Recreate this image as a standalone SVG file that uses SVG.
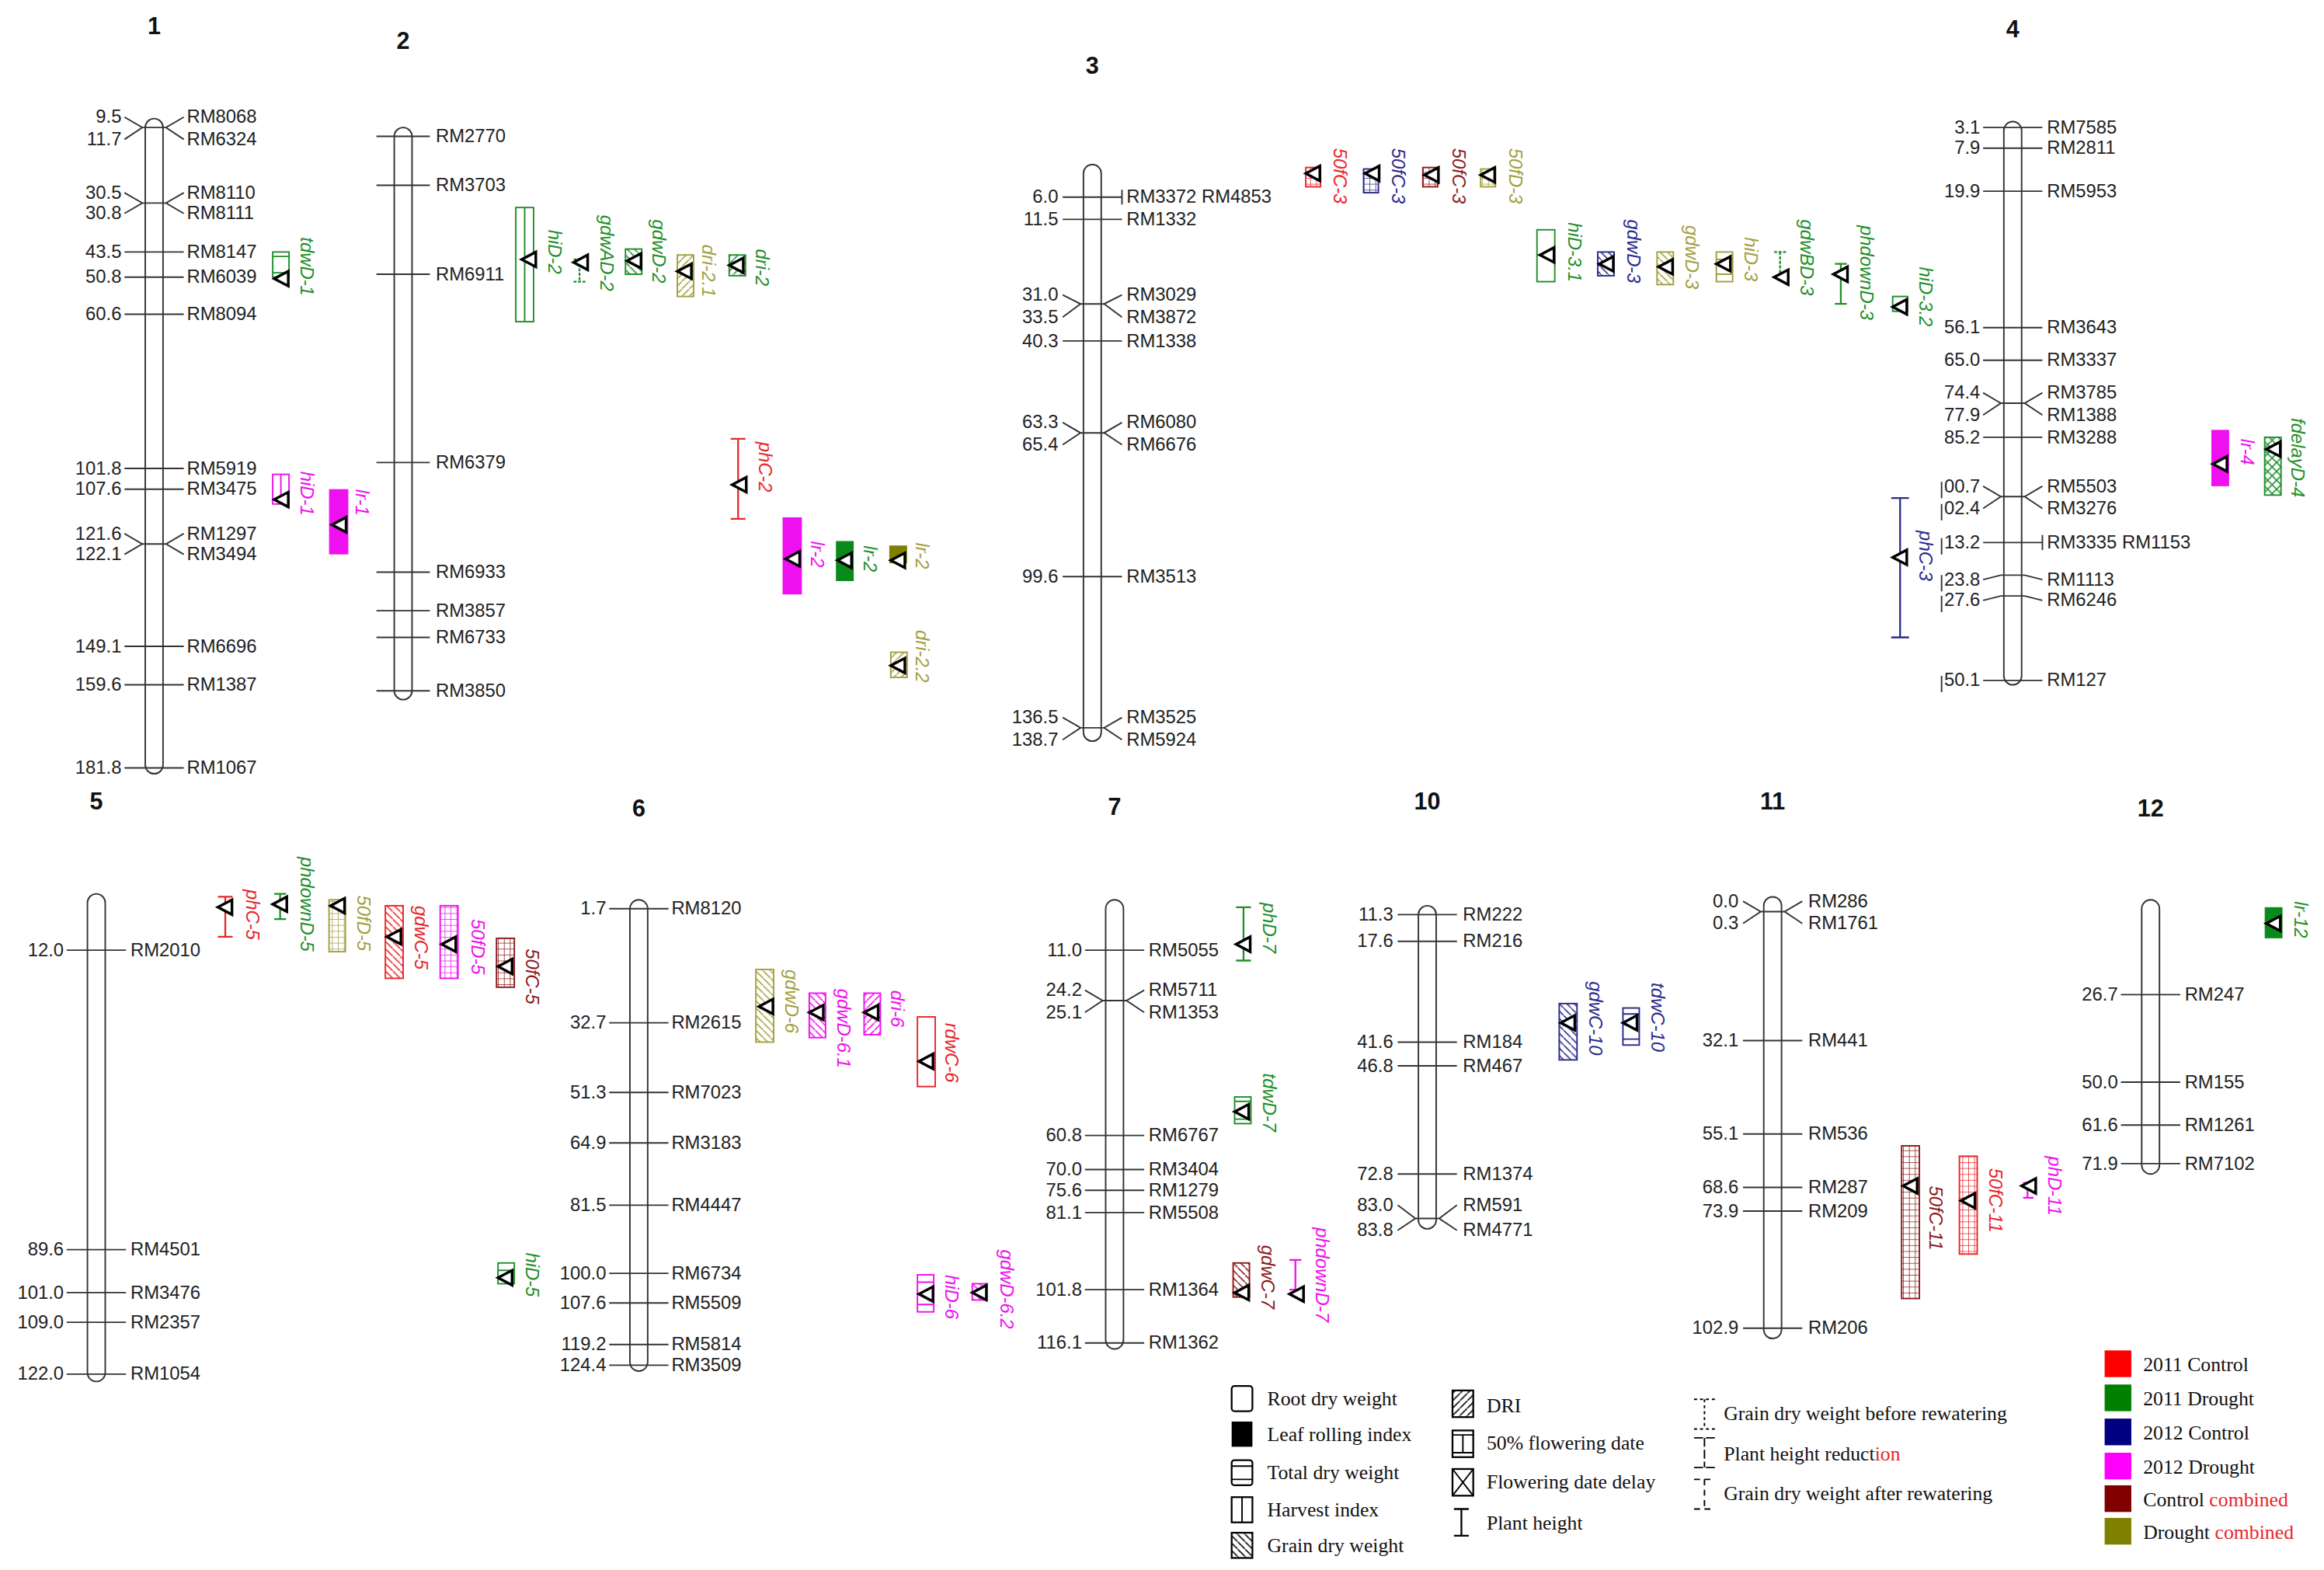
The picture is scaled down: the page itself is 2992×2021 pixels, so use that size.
<svg xmlns="http://www.w3.org/2000/svg" xmlns:xlink="http://www.w3.org/1999/xlink" width="2992" height="2021" viewBox="0 0 2992 2021">
<style>
.chr{fill:#fff;stroke:#333;stroke-width:1}
.tk{fill:none;stroke:#333;stroke-width:1}
.n{font-family:"Liberation Sans",Arial,sans-serif;font-size:12.5px;fill:#222}
.r{text-anchor:end}
.t{font-family:"Liberation Sans",Arial,sans-serif;font-size:16px;font-weight:bold;text-anchor:middle;fill:#111}
.q{font-family:"Liberation Sans",Arial,sans-serif;font-size:12.5px;font-style:italic}
.tri{fill:#fff;stroke:#000;stroke-width:1.8}
.lg{font-family:"Liberation Serif","Times New Roman",serif;font-size:13.5px;fill:#111}
.ib{fill:none;stroke-width:1.2}
.lic{fill:#fff;stroke:#000;stroke-width:1.2}
</style>
<defs>
<path id="tri" class="tri" d="M4.5,-5 L4.5,5 L-5,0 Z"/>
<pattern id="bsR" width="5" height="5" patternUnits="userSpaceOnUse"><path d="M-1,-1 L6,6" stroke="#e8262b" stroke-width="0.8"/></pattern>
<pattern id="bsO" width="5" height="5" patternUnits="userSpaceOnUse"><path d="M-1,-1 L6,6" stroke="#a2a040" stroke-width="0.8"/></pattern>
<pattern id="bsN" width="5" height="5" patternUnits="userSpaceOnUse"><path d="M-1,-1 L6,6" stroke="#2a2a8c" stroke-width="0.8"/></pattern>
<pattern id="bsM" width="5" height="5" patternUnits="userSpaceOnUse"><path d="M-1,-1 L6,6" stroke="#ee10ee" stroke-width="0.8"/></pattern>
<pattern id="bsD" width="5" height="5" patternUnits="userSpaceOnUse"><path d="M-1,-1 L6,6" stroke="#8b1a1a" stroke-width="0.8"/></pattern>
<pattern id="bsG" width="5" height="5" patternUnits="userSpaceOnUse"><path d="M-1,-1 L6,6" stroke="#1f8f2a" stroke-width="0.8"/></pattern>
<pattern id="bsK" width="5" height="5" patternUnits="userSpaceOnUse"><path d="M-1,-1 L6,6" stroke="#000" stroke-width="0.8"/></pattern>
<pattern id="fsO" width="5" height="5" patternUnits="userSpaceOnUse"><path d="M-1,6 L6,-1" stroke="#a2a040" stroke-width="0.8"/></pattern>
<pattern id="fsG" width="5" height="5" patternUnits="userSpaceOnUse"><path d="M-1,6 L6,-1" stroke="#1f8f2a" stroke-width="0.8"/></pattern>
<pattern id="fsM" width="5" height="5" patternUnits="userSpaceOnUse"><path d="M-1,6 L6,-1" stroke="#ee10ee" stroke-width="0.8"/></pattern>
<pattern id="fsK" width="5" height="5" patternUnits="userSpaceOnUse"><path d="M-1,6 L6,-1" stroke="#000" stroke-width="0.8"/></pattern>
<pattern id="grR" width="4" height="4" patternUnits="userSpaceOnUse"><path d="M0,0 H4 M0,0 V4" stroke="#e8262b" stroke-width="0.8" fill="none"/></pattern>
<pattern id="grN" width="4" height="4" patternUnits="userSpaceOnUse"><path d="M0,0 H4 M0,0 V4" stroke="#2a2a8c" stroke-width="0.8" fill="none"/></pattern>
<pattern id="grD" width="4" height="4" patternUnits="userSpaceOnUse"><path d="M0,0 H4 M0,0 V4" stroke="#8b1a1a" stroke-width="0.8" fill="none"/></pattern>
<pattern id="grO" width="4" height="4" patternUnits="userSpaceOnUse"><path d="M0,0 H4 M0,0 V4" stroke="#a2a040" stroke-width="0.8" fill="none"/></pattern>
<pattern id="grM" width="4" height="4" patternUnits="userSpaceOnUse"><path d="M0,0 H4 M0,0 V4" stroke="#ee10ee" stroke-width="0.8" fill="none"/></pattern>
<pattern id="xG" width="6" height="6" patternUnits="userSpaceOnUse"><path d="M0,0 L6,6 M6,0 L0,6" stroke="#1f8f2a" stroke-width="0.8"/></pattern>
</defs>
<rect width="2992" height="2021" fill="#fff"/>
<g transform="scale(1.908163)">

<!-- Chromosome 1 -->
<g id="chr1">
<text class="t" x="104" y="23">1</text>
<rect class="chr" x="98" y="80" width="12" height="442" rx="6"/>
<path class="tk" d="M84,79 L96,86 L112,86 L124,79 M84,94 L96,86 L112,86 L124,94 M84,130 L96,137 L112,137 L124,130 M84,144 L96,137 L112,137 L124,144 M84,170 H124 M84,187 H124 M84,212 H124 M84,316 H124 M84,330 H124 M84,360 L96,367 L112,367 L124,360 M84,374 L96,367 L112,367 L124,374 M84,436 H124 M84,462 H124 M84,518 H124"/>
<g class="n r"><text x="82" y="83">9.5</text><text x="82" y="98">11.7</text><text x="82" y="134">30.5</text><text x="82" y="148">30.8</text><text x="82" y="174">43.5</text><text x="82" y="191">50.8</text><text x="82" y="216">60.6</text><text x="82" y="320">101.8</text><text x="82" y="334">107.6</text><text x="82" y="364">121.6</text><text x="82" y="378">122.1</text><text x="82" y="440">149.1</text><text x="82" y="466">159.6</text><text x="82" y="522">181.8</text></g>
<g class="n"><text x="126" y="83">RM8068</text><text x="126" y="98">RM6324</text><text x="126" y="134">RM8110</text><text x="126" y="148">RM8111</text><text x="126" y="174">RM8147</text><text x="126" y="191">RM6039</text><text x="126" y="216">RM8094</text><text x="126" y="320">RM5919</text><text x="126" y="334">RM3475</text><text x="126" y="364">RM1297</text><text x="126" y="378">RM3494</text><text x="126" y="440">RM6696</text><text x="126" y="466">RM1387</text><text x="126" y="522">RM1067</text></g>
</g>
<g id="q-tdwD-1"><rect x="184" y="170" width="11" height="17" fill="#fff" stroke="#1f8f2a"/><path d="M184,173 H195 M184,184 H195" stroke="#1f8f2a"/><use href="#tri" x="190" y="188"/><text class="q" fill="#1f8f2a" transform="translate(203,160) rotate(90)">tdwD-1</text></g>
<g id="q-hiD-1"><rect x="184" y="320" width="11" height="20" fill="#fff" stroke="#ee10ee"/><path d="M189.5,320 V340" stroke="#ee10ee"/><use href="#tri" x="190" y="337"/><text class="q" fill="#ee10ee" transform="translate(203,318) rotate(90)">hiD-1</text></g>
<g id="q-lr-1"><rect x="222" y="330" width="13" height="44" fill="#ee10ee"/><use href="#tri" x="229" y="354"/><text class="q" fill="#ee10ee" transform="translate(240,330) rotate(90)">lr-1</text></g>

<!-- Chromosome 2 -->
<g id="chr2">
<text class="t" x="272" y="33">2</text>
<rect class="chr" x="266" y="86" width="12" height="386" rx="6"/>
<path class="tk" d="M254,92 H290 M254,125 H290 M254,185 H290 M254,312 H290 M254,386 H290 M254,412 H290 M254,430 H290 M254,466 H290"/>
<g class="n"><text x="294" y="96">RM2770</text><text x="294" y="129">RM3703</text><text x="294" y="189">RM6911</text><text x="294" y="316">RM6379</text><text x="294" y="390">RM6933</text><text x="294" y="416">RM3857</text><text x="294" y="434">RM6733</text><text x="294" y="470">RM3850</text></g>
</g>
<g id="q-hiD-2"><rect x="348" y="140" width="12" height="77" fill="#fff" stroke="#1f8f2a"/><path d="M354,140 V217" stroke="#1f8f2a"/><use href="#tri" x="357" y="175"/><text class="q" fill="#1f8f2a" transform="translate(370,155) rotate(90)">hiD-2</text></g>
<g id="q-gdwAD-2"><path class="ib" stroke="#1f8f2a" d="M387,175 H395 M391,175 V190 M387,190 H395" stroke-dasharray="2,1"/><use href="#tri" x="392" y="177"/><text class="q" fill="#1f8f2a" transform="translate(405,145) rotate(90)">gdwAD-2</text></g>
<g id="q-gdwD-2"><rect x="422" y="168" width="11" height="17" fill="url(#bsG)" stroke="#1f8f2a"/><use href="#tri" x="428" y="176"/><text class="q" fill="#1f8f2a" transform="translate(440,148) rotate(90)">gdwD-2</text></g>
<g id="q-dri-2.1"><rect x="457" y="172" width="11" height="28" fill="url(#fsO)" stroke="#a2a040"/><use href="#tri" x="462" y="183"/><text class="q" fill="#a2a040" transform="translate(474,165) rotate(90)">dri-2.1</text></g>
<g id="q-dri-2"><rect x="492" y="172" width="11" height="14" fill="url(#fsG)" stroke="#1f8f2a"/><use href="#tri" x="497" y="179"/><text class="q" fill="#1f8f2a" transform="translate(510,168) rotate(90)">dri-2</text></g>
<g id="q-phC-2"><path class="ib" stroke="#e8262b" d="M493,296 H503 M498,296 V350 M493,350 H503"/><use href="#tri" x="499" y="327"/><text class="q" fill="#e8262b" transform="translate(512,298) rotate(90)">phC-2</text></g>
<g id="q-lr-2m"><rect x="528" y="349" width="13" height="52" fill="#ee10ee"/><use href="#tri" x="535" y="377"/><text class="q" fill="#ee10ee" transform="translate(547,365) rotate(90)">lr-2</text></g>
<g id="q-lr-2g"><rect x="564" y="365" width="12" height="27" fill="#0a8a1a"/><use href="#tri" x="570" y="378"/><text class="q" fill="#1f8f2a" transform="translate(583,368) rotate(90)">lr-2</text></g>
<g id="q-lr-2o"><rect x="600" y="368" width="12" height="12" fill="#808000"/><use href="#tri" x="606" y="378"/><text class="q" fill="#a2a040" transform="translate(618,366) rotate(90)">lr-2</text></g>
<g id="q-dri-2.2"><rect x="601" y="440" width="11" height="17" fill="url(#fsO)" stroke="#a2a040"/><use href="#tri" x="606" y="449"/><text class="q" fill="#a2a040" transform="translate(618,425) rotate(90)">dri-2.2</text></g>

<!-- Chromosome 3 -->
<g id="chr3">
<text class="t" x="737" y="50">3</text>
<rect class="chr" x="731" y="111" width="12" height="389" rx="6"/>
<path class="tk" d="M717,133 H757 M757,128 V138 M717,148 H757 M717,199 L729,205 L745,205 L757,199 M717,214 L729,205 L745,205 L757,214 M717,230 H757 M717,285 L729,292 L745,292 L757,285 M717,300 L729,292 L745,292 L757,300 M717,389 H757 M717,484 L729,491 L745,491 L757,484 M717,499 L729,491 L745,491 L757,499"/>
<g class="n r"><text x="714" y="137">6.0</text><text x="714" y="152">11.5</text><text x="714" y="203">31.0</text><text x="714" y="218">33.5</text><text x="714" y="234">40.3</text><text x="714" y="289">63.3</text><text x="714" y="304">65.4</text><text x="714" y="393">99.6</text><text x="714" y="488">136.5</text><text x="714" y="503">138.7</text></g>
<g class="n"><text x="760" y="137">RM3372 RM4853</text><text x="760" y="152">RM1332</text><text x="760" y="203">RM3029</text><text x="760" y="218">RM3872</text><text x="760" y="234">RM1338</text><text x="760" y="289">RM6080</text><text x="760" y="304">RM6676</text><text x="760" y="393">RM3513</text><text x="760" y="488">RM3525</text><text x="760" y="503">RM5924</text></g>
</g>
<g id="q-50fC-3r"><rect x="881" y="113" width="10" height="13" fill="url(#grR)" stroke="#e8262b"/><use href="#tri" x="886" y="117"/><text class="q" fill="#e8262b" transform="translate(900,100) rotate(90)">50fC-3</text></g>
<g id="q-50fC-3n"><rect x="920" y="114" width="10" height="16" fill="url(#grN)" stroke="#2a2a8c"/><use href="#tri" x="926" y="117"/><text class="q" fill="#2a2a8c" transform="translate(939,100) rotate(90)">50fC-3</text></g>
<g id="q-50fC-3d"><rect x="960" y="113" width="10" height="13" fill="url(#grD)" stroke="#8b1a1a"/><use href="#tri" x="966" y="118"/><text class="q" fill="#8b1a1a" transform="translate(980,100) rotate(90)">50fC-3</text></g>
<g id="q-50fD-3"><rect x="999" y="114" width="10" height="12" fill="url(#grO)" stroke="#a2a040"/><use href="#tri" x="1004" y="118"/><text class="q" fill="#a2a040" transform="translate(1018,100) rotate(90)">50fD-3</text></g>
<g id="q-hiD-3.1"><rect x="1037" y="155" width="12" height="35" fill="#fff" stroke="#1f8f2a"/><path d="M1037,172 H1049" stroke="#1f8f2a"/><use href="#tri" x="1044" y="172"/><text class="q" fill="#1f8f2a" transform="translate(1058,150) rotate(90)">hiD-3.1</text></g>
<g id="q-gdwD-3n"><rect x="1078" y="170" width="11" height="16" fill="url(#bsN)" stroke="#2a2a8c"/><use href="#tri" x="1084" y="178"/><text class="q" fill="#2a2a8c" transform="translate(1098,148) rotate(90)">gdwD-3</text></g>
<g id="q-gdwD-3o"><rect x="1118" y="170" width="11" height="22" fill="url(#bsO)" stroke="#a2a040"/><use href="#tri" x="1124" y="180"/><text class="q" fill="#a2a040" transform="translate(1137,152) rotate(90)">gdwD-3</text></g>
<g id="q-hiD-3"><rect x="1158" y="170" width="11" height="20" fill="#fff" stroke="#a2a040"/><path d="M1158,175 H1169 M1158,185 H1169" stroke="#a2a040"/><use href="#tri" x="1163" y="178"/><text class="q" fill="#a2a040" transform="translate(1177,160) rotate(90)">hiD-3</text></g>
<g id="q-gdwBD-3"><path class="ib" stroke="#1f8f2a" stroke-dasharray="2,1" d="M1197,170 H1206 M1201,170 V187 M1197,187 H1206"/><use href="#tri" x="1202" y="187"/><text class="q" fill="#1f8f2a" transform="translate(1215,148) rotate(90)">gdwBD-3</text></g>
<g id="q-phdownD-3"><path class="ib" stroke="#1f8f2a" d="M1238,178 H1246 M1242,178 V205 M1238,205 H1246"/><use href="#tri" x="1242" y="185"/><text class="q" fill="#1f8f2a" transform="translate(1255,152) rotate(90)">phdownD-3</text></g>
<g id="q-hiD-3.2"><rect x="1277" y="200" width="10" height="10" fill="#fff" stroke="#1f8f2a"/><use href="#tri" x="1282" y="207"/><text class="q" fill="#1f8f2a" transform="translate(1295,180) rotate(90)">hiD-3.2</text></g>
<g id="q-phC-3"><path class="ib" stroke="#2a2a8c" d="M1276,336 H1288 M1282,336 V430 M1276,430 H1288"/><use href="#tri" x="1282" y="376"/><text class="q" fill="#2a2a8c" transform="translate(1295,358) rotate(90)">phC-3</text></g>

<!-- Chromosome 4 -->
<g id="chr4">
<text class="t" x="1358" y="25">4</text>
<rect class="chr" x="1352" y="82" width="12" height="380" rx="6"/>
<path class="tk" d="M1338,86 H1378 M1338,100 H1378 M1338,129 H1378 M1338,221 H1378 M1338,243 H1378 M1338,265 L1350,272 L1366,272 L1378,265 M1338,280 L1350,272 L1366,272 L1378,280 M1338,295 H1378 M1338,328 L1350,335 L1366,335 L1378,328 M1338,343 L1350,335 L1366,335 L1378,343 M1338,366 H1378 M1378,361 V371 M1338,391 L1350,388 L1366,388 L1378,391 M1338,405 L1350,402 L1366,402 L1378,405 M1338,459 H1378"/>
<g class="n r"><text x="1336" y="90">3.1</text><text x="1336" y="104">7.9</text><text x="1336" y="133">19.9</text><text x="1336" y="225">56.1</text><text x="1336" y="247">65.0</text><text x="1336" y="269">74.4</text><text x="1336" y="284">77.9</text><text x="1336" y="299">85.2</text><text x="1336" y="332">00.7</text><text x="1336" y="347">02.4</text><text x="1336" y="370">13.2</text><text x="1336" y="395">23.8</text><text x="1336" y="409">27.6</text><text x="1336" y="463">50.1</text></g>
<path class="tk" d="M1310,325 V336 M1310,340 V351 M1310,363 V374 M1310,388 V399 M1310,402 V413 M1310,456 V467"/>
<g class="n"><text x="1381" y="90">RM7585</text><text x="1381" y="104">RM2811</text><text x="1381" y="133">RM5953</text><text x="1381" y="225">RM3643</text><text x="1381" y="247">RM3337</text><text x="1381" y="269">RM3785</text><text x="1381" y="284">RM1388</text><text x="1381" y="299">RM3288</text><text x="1381" y="332">RM5503</text><text x="1381" y="347">RM3276</text><text x="1381" y="370">RM3335 RM1153</text><text x="1381" y="395">RM1113</text><text x="1381" y="409">RM6246</text><text x="1381" y="463">RM127</text></g>
</g>
<g id="q-lr-4"><rect x="1492" y="290" width="12" height="38" fill="#ee10ee"/><use href="#tri" x="1498" y="313"/><text class="q" fill="#ee10ee" transform="translate(1512,296) rotate(90)">lr-4</text></g>
<g id="q-fdelayD-4"><rect x="1528" y="295" width="11" height="39" fill="url(#xG)" stroke="#1f8f2a"/><use href="#tri" x="1534" y="303"/><text class="q" fill="#1f8f2a" transform="translate(1546,282) rotate(90)">fdelayD-4</text></g>

<!-- Chromosome 5 -->
<g id="chr5">
<text class="t" x="65" y="546">5</text>
<rect class="chr" x="59" y="603" width="12" height="329" rx="6"/>
<path class="tk" d="M45,641 H85 M45,843 H85 M45,872 H85 M45,892 H85 M45,927 H85"/>
<g class="n r"><text x="43" y="645">12.0</text><text x="43" y="847">89.6</text><text x="43" y="876">101.0</text><text x="43" y="896">109.0</text><text x="43" y="931">122.0</text></g>
<g class="n"><text x="88" y="645">RM2010</text><text x="88" y="847">RM4501</text><text x="88" y="876">RM3476</text><text x="88" y="896">RM2357</text><text x="88" y="931">RM1054</text></g>
</g>
<g id="q-phC-5"><path class="ib" stroke="#e8262b" d="M147,605 H157 M152,605 V632 M147,632 H157"/><use href="#tri" x="152" y="612"/><text class="q" fill="#e8262b" transform="translate(166,600) rotate(90)">phC-5</text></g>
<g id="q-phdownD-5"><path class="ib" stroke="#1f8f2a" d="M185,603 H193 M189,603 V620 M185,620 H193"/><use href="#tri" x="189" y="610"/><text class="q" fill="#1f8f2a" transform="translate(203,578) rotate(90)">phdownD-5</text></g>
<g id="q-50fD-5o"><rect x="222" y="607" width="11" height="35" fill="url(#grO)" stroke="#a2a040"/><use href="#tri" x="228" y="611"/><text class="q" fill="#a2a040" transform="translate(241,604) rotate(90)">50fD-5</text></g>
<g id="q-gdwC-5"><rect x="260" y="611" width="12" height="49" fill="url(#bsR)" stroke="#e8262b"/><use href="#tri" x="266" y="632"/><text class="q" fill="#e8262b" transform="translate(280,611) rotate(90)">gdwC-5</text></g>
<g id="q-50fD-5m"><rect x="297" y="611" width="12" height="49" fill="url(#grM)" stroke="#ee10ee"/><use href="#tri" x="303" y="637"/><text class="q" fill="#ee10ee" transform="translate(318,620) rotate(90)">50fD-5</text></g>
<g id="q-50fC-5"><rect x="335" y="633" width="12" height="33" fill="url(#grD)" stroke="#8b1a1a"/><use href="#tri" x="341" y="652"/><text class="q" fill="#8b1a1a" transform="translate(355,640) rotate(90)">50fC-5</text></g>
<g id="q-hiD-5"><rect x="336" y="852" width="11" height="14" fill="#fff" stroke="#1f8f2a"/><path d="M336,857 H347" stroke="#1f8f2a"/><use href="#tri" x="341" y="862"/><text class="q" fill="#1f8f2a" transform="translate(355,845) rotate(90)">hiD-5</text></g>

<!-- Chromosome 6 -->
<g id="chr6">
<text class="t" x="431" y="551">6</text>
<rect class="chr" x="425" y="607" width="12" height="318" rx="6"/>
<path class="tk" d="M411,613 H451 M411,690 H451 M411,737 H451 M411,771 H451 M411,813 H451 M411,859 H451 M411,879 H451 M411,907 H451 M411,921 H451"/>
<g class="n r"><text x="409" y="617">1.7</text><text x="409" y="694">32.7</text><text x="409" y="741">51.3</text><text x="409" y="775">64.9</text><text x="409" y="817">81.5</text><text x="409" y="863">100.0</text><text x="409" y="883">107.6</text><text x="409" y="911">119.2</text><text x="409" y="925">124.4</text></g>
<g class="n"><text x="453" y="617">RM8120</text><text x="453" y="694">RM2615</text><text x="453" y="741">RM7023</text><text x="453" y="775">RM3183</text><text x="453" y="817">RM4447</text><text x="453" y="863">RM6734</text><text x="453" y="883">RM5509</text><text x="453" y="911">RM5814</text><text x="453" y="925">RM3509</text></g>
</g>
<g id="q-gdwD-6"><rect x="510" y="654" width="12" height="49" fill="url(#bsO)" stroke="#a2a040"/><use href="#tri" x="517" y="679"/><text class="q" fill="#a2a040" transform="translate(530,654) rotate(90)">gdwD-6</text></g>
<g id="q-gdwD-6.1"><rect x="546" y="670" width="11" height="30" fill="url(#bsM)" stroke="#ee10ee"/><use href="#tri" x="551" y="683"/><text class="q" fill="#ee10ee" transform="translate(565,667) rotate(90)">gdwD-6.1</text></g>
<g id="q-dri-6"><rect x="583" y="670" width="11" height="28" fill="url(#fsM)" stroke="#ee10ee"/><use href="#tri" x="588" y="683"/><text class="q" fill="#ee10ee" transform="translate(601,668) rotate(90)">dri-6</text></g>
<g id="q-rdwC-6"><rect x="619" y="686" width="12" height="47" fill="#fff" stroke="#e8262b"/><use href="#tri" x="625" y="716"/><text class="q" fill="#e8262b" transform="translate(638,690) rotate(90)">rdwC-6</text></g>
<g id="q-hiD-6"><rect x="619" y="860" width="11" height="25" fill="#fff" stroke="#ee10ee"/><path d="M619,865 H630 M619,880 H630" stroke="#ee10ee"/><use href="#tri" x="625" y="873"/><text class="q" fill="#ee10ee" transform="translate(638,860) rotate(90)">hiD-6</text></g>
<g id="q-gdwD-6.2"><rect x="656" y="866" width="10" height="11" fill="url(#bsM)" stroke="#ee10ee"/><use href="#tri" x="661" y="872"/><text class="q" fill="#ee10ee" transform="translate(675,843) rotate(90)">gdwD-6.2</text></g>

<!-- Chromosome 7 -->
<g id="chr7">
<text class="t" x="752" y="550">7</text>
<rect class="chr" x="746" y="607" width="12" height="303" rx="6"/>
<path class="tk" d="M732,641 H772 M732,668 L744,675 L760,675 L772,668 M732,683 L744,675 L760,675 L772,683 M732,766 H772 M732,789 H772 M732,803 H772 M732,818 H772 M732,870 H772 M732,906 H772"/>
<g class="n r"><text x="730" y="645">11.0</text><text x="730" y="672">24.2</text><text x="730" y="687">25.1</text><text x="730" y="770">60.8</text><text x="730" y="793">70.0</text><text x="730" y="807">75.6</text><text x="730" y="822">81.1</text><text x="730" y="874">101.8</text><text x="730" y="910">116.1</text></g>
<g class="n"><text x="775" y="645">RM5055</text><text x="775" y="672">RM5711</text><text x="775" y="687">RM1353</text><text x="775" y="770">RM6767</text><text x="775" y="793">RM3404</text><text x="775" y="807">RM1279</text><text x="775" y="822">RM5508</text><text x="775" y="874">RM1364</text><text x="775" y="910">RM1362</text></g>
</g>
<g id="q-phD-7"><path class="ib" stroke="#1f8f2a" d="M834,612 H844 M839,612 V648 M834,648 H844"/><use href="#tri" x="839" y="637"/><text class="q" fill="#1f8f2a" transform="translate(852,609) rotate(90)">phD-7</text></g>
<g id="q-tdwD-7"><rect x="833" y="740" width="11" height="18" fill="#fff" stroke="#1f8f2a"/><path d="M833,743 H844 M833,755 H844" stroke="#1f8f2a"/><use href="#tri" x="838" y="750"/><text class="q" fill="#1f8f2a" transform="translate(852,724) rotate(90)">tdwD-7</text></g>
<g id="q-gdwC-7"><rect x="832" y="852" width="11" height="23" fill="url(#bsD)" stroke="#8b1a1a"/><use href="#tri" x="838" y="872"/><text class="q" fill="#8b1a1a" transform="translate(851,840) rotate(90)">gdwC-7</text></g>
<g id="q-phdownD-7"><path class="ib" stroke="#ee10ee" d="M870,850 H878 M874,850 V870 M870,870 H878"/><use href="#tri" x="875" y="873"/><text class="q" fill="#ee10ee" transform="translate(888,828) rotate(90)">phdownD-7</text></g>

<!-- Chromosome 10 -->
<g id="chr10">
<text class="t" x="963" y="546">10</text>
<rect class="chr" x="957" y="611" width="12" height="218" rx="6"/>
<path class="tk" d="M943,617 H983 M943,635 H983 M943,703 H983 M943,719 H983 M943,792 H983 M943,813 L955,822 L971,822 L983,813 M943,830 L955,822 L971,822 L983,830"/>
<g class="n r"><text x="940" y="621">11.3</text><text x="940" y="639">17.6</text><text x="940" y="707">41.6</text><text x="940" y="723">46.8</text><text x="940" y="796">72.8</text><text x="940" y="817">83.0</text><text x="940" y="834">83.8</text></g>
<g class="n"><text x="987" y="621">RM222</text><text x="987" y="639">RM216</text><text x="987" y="707">RM184</text><text x="987" y="723">RM467</text><text x="987" y="796">RM1374</text><text x="987" y="817">RM591</text><text x="987" y="834">RM4771</text></g>
</g>
<g id="q-gdwC-10"><rect x="1052" y="677" width="12" height="38" fill="url(#bsN)" stroke="#2a2a8c"/><use href="#tri" x="1058" y="690"/><text class="q" fill="#2a2a8c" transform="translate(1072,662) rotate(90)">gdwC-10</text></g>
<g id="q-tdwC-10"><rect x="1095" y="680" width="11" height="25" fill="#fff" stroke="#2a2a8c"/><path d="M1095,684 H1106 M1095,701 H1106" stroke="#2a2a8c"/><use href="#tri" x="1100" y="690"/><text class="q" fill="#2a2a8c" transform="translate(1114,663) rotate(90)">tdwC-10</text></g>

<!-- Chromosome 11 -->
<g id="chr11">
<text class="t" x="1196" y="546">11</text>
<rect class="chr" x="1190" y="605" width="12" height="298" rx="6"/>
<path class="tk" d="M1176,608 L1188,615 L1204,615 L1216,608 M1176,623 L1188,615 L1204,615 L1216,623 M1176,702 H1216 M1176,765 H1216 M1176,801 H1216 M1176,817 H1216 M1176,896 H1216"/>
<g class="n r"><text x="1173" y="612">0.0</text><text x="1173" y="627">0.3</text><text x="1173" y="706">32.1</text><text x="1173" y="769">55.1</text><text x="1173" y="805">68.6</text><text x="1173" y="821">73.9</text><text x="1173" y="900">102.9</text></g>
<g class="n"><text x="1220" y="612">RM286</text><text x="1220" y="627">RM1761</text><text x="1220" y="706">RM441</text><text x="1220" y="769">RM536</text><text x="1220" y="805">RM287</text><text x="1220" y="821">RM209</text><text x="1220" y="900">RM206</text></g>
</g>
<g id="q-50fC-11d"><rect x="1283" y="773" width="12" height="103" fill="url(#grD)" stroke="#8b1a1a"/><use href="#tri" x="1289" y="800"/><text class="q" fill="#8b1a1a" transform="translate(1302,800) rotate(90)">50fC-11</text></g>
<g id="q-50fC-11r"><rect x="1322" y="780" width="12" height="66" fill="url(#grR)" stroke="#e8262b"/><use href="#tri" x="1328" y="810"/><text class="q" fill="#e8262b" transform="translate(1342,788) rotate(90)">50fC-11</text></g>
<g id="q-phD-11"><path class="ib" stroke="#ee10ee" d="M1365,798 H1372 M1368,798 V808 M1365,808 H1372"/><use href="#tri" x="1369" y="800"/><text class="q" fill="#ee10ee" transform="translate(1382,780) rotate(90)">phD-11</text></g>

<!-- Chromosome 12 -->
<g id="chr12">
<text class="t" x="1451" y="551">12</text>
<rect class="chr" x="1445" y="607" width="12" height="185" rx="6"/>
<path class="tk" d="M1431,671 H1471 M1431,730 H1471 M1431,759 H1471 M1431,785 H1471"/>
<g class="n r"><text x="1429" y="675">26.7</text><text x="1429" y="734">50.0</text><text x="1429" y="763">61.6</text><text x="1429" y="789">71.9</text></g>
<g class="n"><text x="1474" y="675">RM247</text><text x="1474" y="734">RM155</text><text x="1474" y="763">RM1261</text><text x="1474" y="789">RM7102</text></g>
</g>
<g id="q-lr-12"><rect x="1528" y="612" width="12" height="21" fill="#0a8a1a"/><use href="#tri" x="1534" y="623"/><text class="q" fill="#1f8f2a" transform="translate(1548,608) rotate(90)">lr-12</text></g>

<!-- Legend -->
<g id="legend">
<rect class="lic" x="831" y="935" width="14" height="17" rx="2"/><text class="lg" x="855" y="948">Root dry weight</text>
<rect x="831" y="959" width="14" height="17" fill="#000"/><text class="lg" x="855" y="972">Leaf rolling index</text>
<rect class="lic" x="831" y="985" width="14" height="17" rx="2"/><path d="M831,989 H845 M831,998 H845" stroke="#000"/><text class="lg" x="855" y="998">Total dry weight</text>
<rect class="lic" x="831" y="1010" width="14" height="17"/><path d="M838,1010 V1027" stroke="#000"/><text class="lg" x="855" y="1023">Harvest index</text>
<rect x="831" y="1034" width="14" height="17" fill="url(#bsK)" stroke="#000" stroke-width="1.2"/><text class="lg" x="855" y="1047">Grain dry weight</text>
<rect x="980" y="938" width="14" height="18" fill="url(#fsK)" stroke="#000" stroke-width="1.2"/><text class="lg" x="1003" y="953">DRI</text>
<rect class="lic" x="980" y="965" width="14" height="18"/><path d="M980,968 H994 M980,980 H994 M987,968 V980" stroke="#000"/><text class="lg" x="1003" y="978">50% flowering date</text>
<rect class="lic" x="980" y="991" width="14" height="18"/><path d="M980,991 L994,1009 M994,991 L980,1009" stroke="#000"/><text class="lg" x="1003" y="1004">Flowering date delay</text>
<path d="M981,1018 H991 M986,1018 V1036 M981,1036 H991" stroke="#000" stroke-width="1.2" fill="none"/><text class="lg" x="1003" y="1032">Plant height</text>
<path d="M1143,944 H1157 M1150,944 V964 M1143,964 H1157" stroke="#000" stroke-width="1" stroke-dasharray="2,2" fill="none"/><text class="lg" x="1163" y="958">Grain dry weight before rewatering</text>
<path d="M1143,970 H1157 M1150,970 V990 M1143,990 H1157" stroke="#000" stroke-width="1" stroke-dasharray="6,2" fill="none"/><text class="lg" x="1163" y="985">Plant height reduct<tspan fill="#e8262b">ion</tspan></text>
<path d="M1143,998 H1157 M1150,998 V1018 M1143,1018 H1157" stroke="#000" stroke-width="1" stroke-dasharray="4,3" fill="none"/><text class="lg" x="1163" y="1012">Grain dry weight after rewatering</text>
<rect x="1420" y="911" width="18" height="18" fill="#ff0000"/><text class="lg" x="1446" y="925">2011 Control</text>
<rect x="1420" y="934" width="18" height="18" fill="#008000"/><text class="lg" x="1446" y="948">2011 Drought</text>
<rect x="1420" y="957" width="18" height="18" fill="#000080"/><text class="lg" x="1446" y="971">2012 Control</text>
<rect x="1420" y="980" width="18" height="18" fill="#ff00ff"/><text class="lg" x="1446" y="994">2012 Drought</text>
<rect x="1420" y="1002" width="18" height="18" fill="#800000"/><text class="lg" x="1446" y="1016">Control <tspan fill="#e8262b">combined</tspan></text>
<rect x="1420" y="1024" width="18" height="18" fill="#808000"/><text class="lg" x="1446" y="1038">Drought <tspan fill="#e8262b">combined</tspan></text>
</g>
</g>
</svg>
